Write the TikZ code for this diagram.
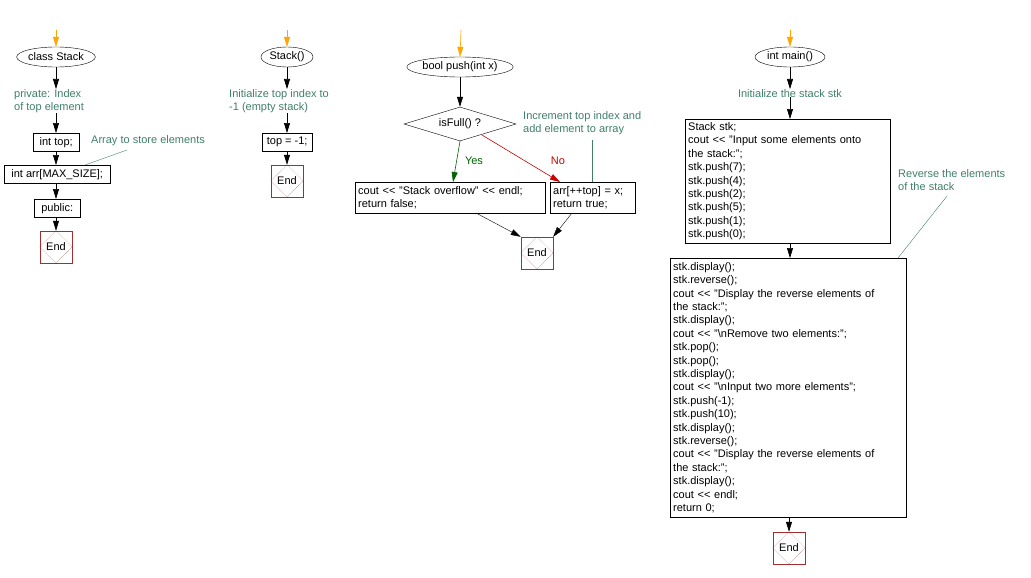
\documentclass[tikz,border=0pt]{standalone}
\usepackage{fontspec}
\setmainfont{Liberation Sans}
\usetikzlibrary{arrows.meta,shapes.geometric}
\definecolor{notegreen}{RGB}{64,128,104}
\definecolor{endred}{RGB}{160,48,48}
\definecolor{yesgreen}{RGB}{0,100,0}
\definecolor{nored}{RGB}{204,0,0}
\definecolor{startorange}{RGB}{255,165,0}
\newcommand{\shl}{<{}<}
\tikzset{
  flow/.style={-{Triangle[width=6pt,length=10pt]},line width=0.6pt},
  start/.style={-{Triangle[width=6pt,length=10pt]},line width=0.6pt,startorange},
  func/.style={ellipse,draw,inner sep=0pt,minimum height=20pt},
  stmt/.style={draw,rectangle,inner sep=3pt,align=left,anchor=north west},
  note/.style={text=notegreen,align=left,inner sep=0pt},
  cond/.style={diamond,draw,aspect=3.3,inner sep=0pt,minimum width=112pt,minimum height=34pt},
  stop/.style={draw=endred,rectangle,minimum size=32pt,inner sep=0pt}
}
\begin{document}
\begin{tikzpicture}[x=1pt,y=-1pt,font=\fontsize{11}{13.4}\selectfont]
	\useasboundingbox[fill=white] (0,0) rectangle (1031,578);

	%CLASS STACK
	\coordinate (s1) at (56,30);
	\node[func,minimum width=78pt] (cls) at (56,57) {class Stack};
	\node[note,anchor=north west] (priv) at (14,89) {private: Index\\of top element};
	\node[stmt,minimum width=46pt,minimum height=18pt] (itop) at (33,133) {int top;};
	\node[stmt,minimum width=106pt,minimum height=18pt] (iarr) at (4,165) {int arr[MAX\_SIZE];};
	\node[stmt,minimum width=46pt,minimum height=18pt] (pub) at (34,199) {public:};
	\node[stop] (end1) at (56,247) {End};
	\node[note,anchor=west] (arrnote) at (91,141) {Array to store elements};
	\draw[start] (s1)--(cls.north);
	\draw[flow] (cls.south)--(priv.north-|cls);
	\draw[flow] (priv.south-|cls)--(itop.north-|cls);
	\draw[flow] (itop.south-|cls)--(iarr.north-|cls);
	\draw[flow] (iarr.south-|cls)--(pub.north-|cls);
	\draw[flow] (pub.south-|cls)--(end1.north);
	\draw[notegreen] (127,150)--(85,165);

	%CONSTRUCTOR
	\coordinate (s2) at (287,30);
	\node[func,minimum width=52pt] (ctor) at (287,57) {Stack()};
	\node[note,anchor=north west] (init) at (229,89) {Initialize top index to\\-1 (empty stack)};
	\node[stmt,minimum width=50pt,minimum height=18pt] (topset) at (262,133) {top = -1;};
	\node[stop] (end2) at (287,181) {End};
	\draw[start] (s2)--(ctor.north);
	\draw[flow] (ctor.south)--(init.north-|ctor);
	\draw[flow] (init.south-|ctor)--(topset.north-|ctor);
	\draw[flow] (topset.south-|ctor)--(end2.north);

	%PUSH
	\coordinate (s3) at (461,30);
	\node[func,minimum width=100pt] (push) at (460,67) {bool push(int x)};
	\node[cond] (full) at (460,124) {isFull() ?};
	\node[stmt,text width=184pt,minimum height=31pt] (ovf) at (355,182) {cout \shl{} "Stack overflow" \shl{} endl;\\return false;};
	\node[stmt,text width=79pt,minimum height=31pt] (ins) at (550,182) {arr[++top] = x;\\return true;};
	\node[note,anchor=north west] (incnote) at (523,111) {Increment top index and\\add element to array};
	\node[stop] (end3) at (537,253) {End};
	\node[text=yesgreen] (yes) at (474,161) {Yes};
	\node[text=nored] (no) at (558,161) {No};
	\draw[start] (s3)--(push.north);
	\draw[flow] (push.south)--(full.north);
	\draw[flow,yesgreen] (full.south)--(453,182);
	\draw[flow,nored] (482,135)--(560,182);
	\draw[notegreen] (592,140)--(592,182);
	\draw[flow,line width=0.4pt] (476,213)--(end3.north west);
	\draw[flow,line width=0.4pt] (572,213)--(end3.north east);

	%MAIN
	\coordinate (s4) at (790,30);
	\node[func,minimum width=70pt] (main) at (790,57) {int main()};
	\node[note,anchor=north] (stk) at (790,89) {Initialize the stack stk};
	\node[stmt,text width=199pt,minimum height=124pt] (fill) at (685,119) {Stack stk;\\cout \shl{} "Input some elements onto\\the stack:";\\stk.push(7);\\stk.push(4);\\stk.push(2);\\stk.push(5);\\stk.push(1);\\stk.push(0);};
	\node[stmt,text width=230pt,minimum height=259pt] (run) at (670,258) {stk.display();\\stk.reverse();\\cout \shl{} "Display the reverse elements of\\the stack:";\\stk.display();\\cout \shl{} "\textbackslash nRemove two elements:";\\stk.pop();\\stk.pop();\\stk.display();\\cout \shl{} "\textbackslash nInput two more elements";\\stk.push(-1);\\stk.push(10);\\stk.display();\\stk.reverse();\\cout \shl{} "Display the reverse elements of\\the stack:";\\stk.display();\\cout \shl{} endl;\\return 0;};
	\node[note,anchor=north west] (revnote) at (898,169) {Reverse the elements\\of the stack};
	\node[stop] (end4) at (789,548) {End};
	\draw[start] (s4)--(main.north);
	\draw[flow] (main.south)--(stk.north);
	\draw[flow] (stk.south)--(fill.north-|stk);
	\draw[flow] (fill.south-|stk)--(run.north-|stk);
	\draw[flow] (run.south-|end4)--(end4.north);
	\draw[notegreen] (947,196)--(898,258);

	%END DIAMONDS
	\foreach \e in {end1,end2,end3,end4}
	\draw[endred,densely dotted] (\e.north)--(\e.east)--(\e.south)--(\e.west)--cycle;
\end{tikzpicture}
\end{document}
